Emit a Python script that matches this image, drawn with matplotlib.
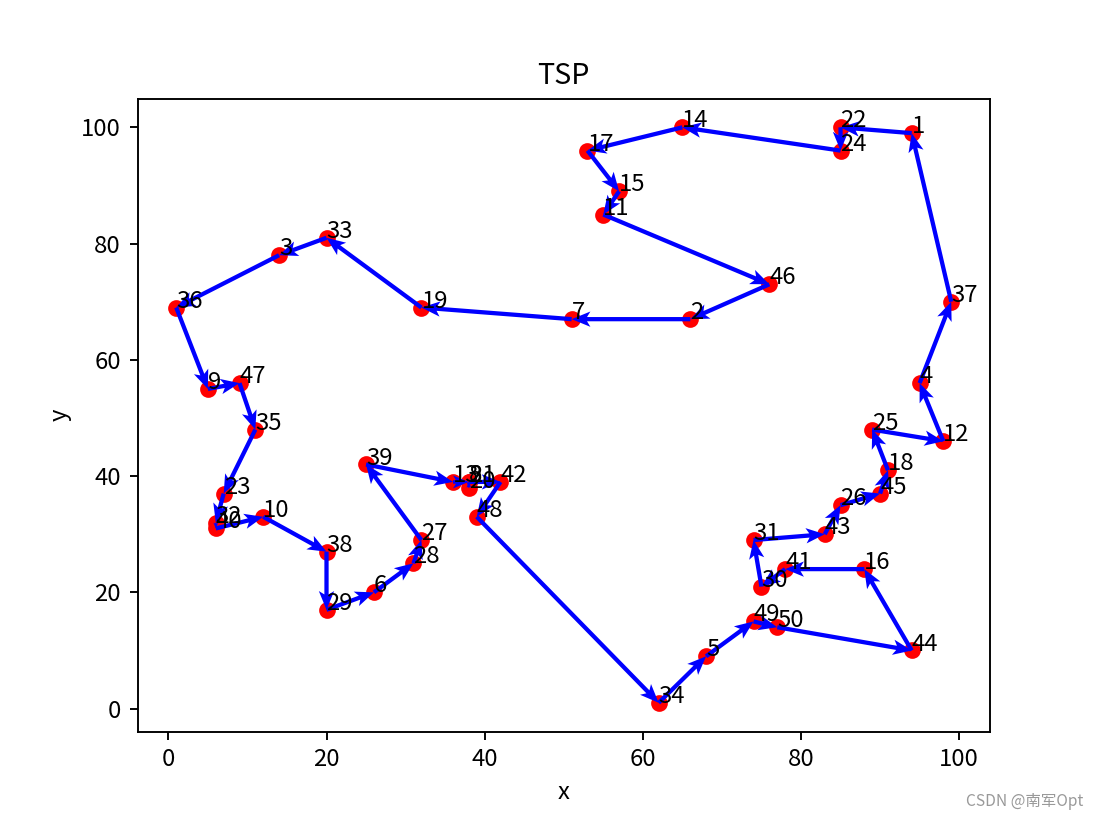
import numpy as np
import matplotlib
matplotlib.use("Agg")
import matplotlib.pyplot as plt

plt.rcParams['font.family'] = ['Noto Sans CJK SC', 'DejaVu Sans']

# city coordinates, city number i is at index i-1
city_x = [94, 66, 14, 95, 68, 26, 51, 38, 5, 12,
          55, 98, 36, 65, 57, 88, 53, 91, 32, 38,
          38, 85, 7, 85, 89, 85, 32, 31, 20, 75,
          74, 6, 20, 62, 11, 1, 99, 20, 25, 6,
          78, 42, 83, 94, 90, 76, 9, 39, 74, 77]
city_y = [99, 67, 78, 56, 9, 20, 67, 39, 55, 33,
          85, 46, 39, 100, 89, 24, 96, 41, 69, 38,
          39, 100, 37, 96, 48, 35, 29, 25, 17, 21,
          29, 32, 81, 1, 48, 69, 70, 27, 42, 31,
          24, 39, 30, 10, 37, 73, 56, 33, 15, 14]

# visiting order of the best tour
tour = [39, 13, 21, 20, 8, 42, 48, 34, 5, 49,
        50, 44, 16, 41, 30, 31, 43, 26, 45, 18,
        25, 12, 4, 37, 1, 22, 24, 14, 17, 15,
        11, 46, 2, 7, 19, 33, 3, 36, 9, 47,
        35, 23, 32, 40, 10, 38, 29, 6, 28, 27]

xs = np.array(city_x, dtype=float)
ys = np.array(city_y, dtype=float)

idx = np.array(tour) - 1
nxt = np.roll(idx, -1)

fig = plt.figure(figsize=(6.4, 4.783), dpi=171.875)
ax = fig.add_subplot(111)

ax.scatter(xs, ys, color='r')
ax.quiver(xs[idx], ys[idx], xs[nxt] - xs[idx], ys[nxt] - ys[idx],
          angles='xy', scale_units='xy', scale=1, color='b',
          width=0.005, headwidth=3.6, headlength=4.4, headaxislength=3.6)

for i in range(len(xs)):
    ax.text(xs[i], ys[i], str(i + 1))

ax.set_title("TSP")
ax.set_xlabel("x")
ax.set_ylabel("y")

fig.text(0.985, 0.015, "CSDN @南军Opt", ha='right', va='bottom',
         fontsize=6.5, color='#999999')

fig.savefig("out.png")
